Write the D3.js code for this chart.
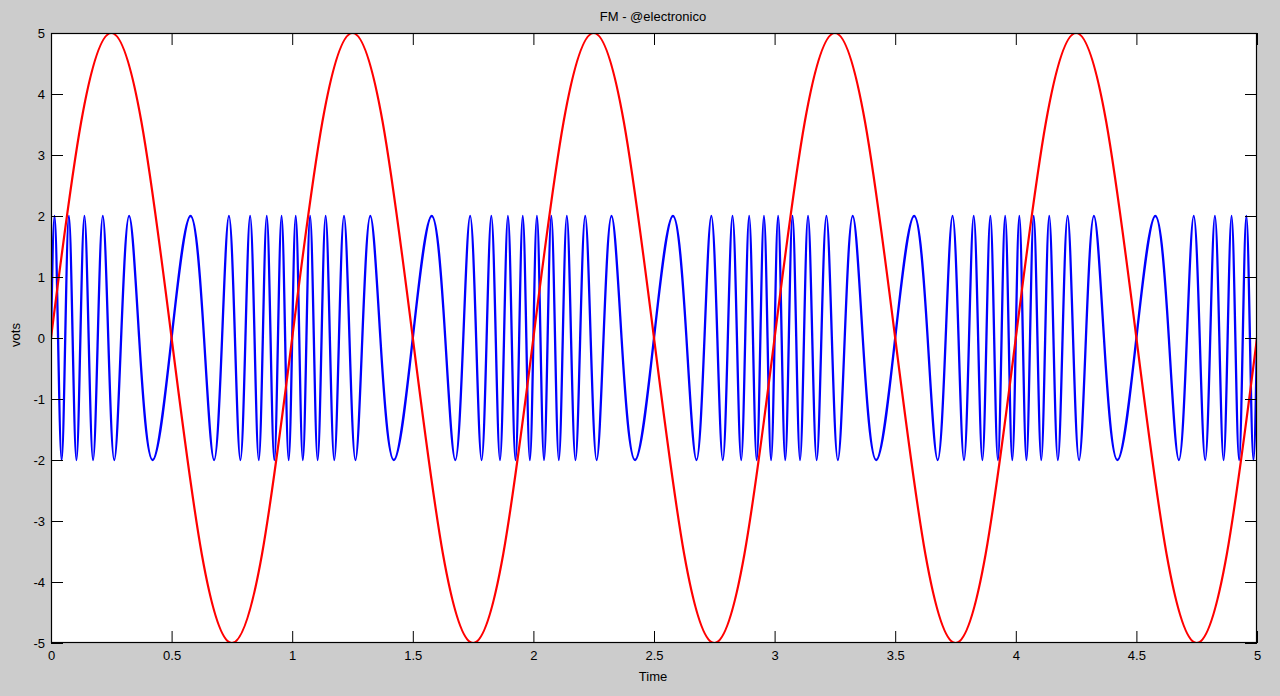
<!DOCTYPE html>
<html>
<head>
<meta charset="utf-8">
<script src="https://cdn.jsdelivr.net/npm/d3@7"></script>
<style>
  html, body { margin: 0; padding: 0; background: #cccccc; }
  svg { display: block; }
  text { font-family: "Liberation Sans", Arial, Helvetica, sans-serif; fill: #000; }
</style>
</head>
<body>
<svg id="chart" width="1280" height="696"></svg>
<script>
// ---------------- data ----------------
const titleText = "FM - @electronico";
const xLabelText = "Time";
const yLabelText = "vots";

const xTicks = [0, 0.5, 1, 1.5, 2, 2.5, 3, 3.5, 4, 4.5, 5];
const yTicks = [-5, -4, -3, -2, -1, 0, 1, 2, 3, 4, 5];

// modulating signal (red), sampled every 1/8 s
const redT = [0,0.125,0.25,0.375,0.5,0.625,0.75,0.875,
  1,1.125,1.25,1.375,1.5,1.625,1.75,1.875,
  2,2.125,2.25,2.375,2.5,2.625,2.75,2.875,
  3,3.125,3.25,3.375,3.5,3.625,3.75,3.875,
  4,4.125,4.25,4.375,4.5,4.625,4.75,4.875,5];
const redV = [0,3.54,5,3.54,0,-3.54,-5,-3.54,
  0,3.54,5,3.54,0,-3.54,-5,-3.54,
  0,3.54,5,3.54,0,-3.54,-5,-3.54,
  0,3.54,5,3.54,0,-3.54,-5,-3.54,
  0,3.54,5,3.54,0,-3.54,-5,-3.54,0];

// FM signal (blue): times of its crests (+2), troughs (-2) and zero crossings
const bluePeakT = [
  0.0146,0.0742,0.1386,0.2148,0.3239,0.5785,0.7377,0.8255,0.8945,0.9559,
  1.0146,1.0742,1.1386,1.2148,1.3239,1.5785,1.7377,1.8255,1.8945,1.9559,
  2.0146,2.0742,2.1386,2.2148,2.3239,2.5785,2.7377,2.8255,2.8945,2.9559,
  3.0146,3.0742,3.1386,3.2148,3.3239,3.5785,3.7377,3.8255,3.8945,3.9559,
  4.0146,4.0742,4.1386,4.2148,4.3239,4.5785,4.7377,4.8255,4.8945,4.9559];
const blueTroughT = [
  0.0441,0.1055,0.1745,0.2623,0.4215,0.6761,0.7852,0.8614,0.9258,0.9854,
  1.0441,1.1055,1.1745,1.2623,1.4215,1.6761,1.7852,1.8614,1.9258,1.9854,
  2.0441,2.1055,2.1745,2.2623,2.4215,2.6761,2.7852,2.8614,2.9258,2.9854,
  3.0441,3.1055,3.1745,3.2623,3.4215,3.6761,3.7852,3.8614,3.9258,3.9854,
  4.0441,4.1055,4.1745,4.2623,4.4215,4.6761,4.7852,4.8614,4.9258,4.9854];
const blueZeroT = [
  0,0.0293,0.0590,0.0897,0.1218,0.1561,0.1939,0.2374,0.2907,0.3655,
  0.5,0.6345,0.7093,0.7626,0.8061,0.8439,0.8782,0.9103,0.9410,0.9707,
  1,1.0293,1.0590,1.0897,1.1218,1.1561,1.1939,1.2374,1.2907,1.3655,
  1.5,1.6345,1.7093,1.7626,1.8061,1.8439,1.8782,1.9103,1.9410,1.9707,
  2,2.0293,2.0590,2.0897,2.1218,2.1561,2.1939,2.2374,2.2907,2.3655,
  2.5,2.6345,2.7093,2.7626,2.8061,2.8439,2.8782,2.9103,2.9410,2.9707,
  3,3.0293,3.0590,3.0897,3.1218,3.1561,3.1939,3.2374,3.2907,3.3655,
  3.5,3.6345,3.7093,3.7626,3.8061,3.8439,3.8782,3.9103,3.9410,3.9707,
  4,4.0293,4.0590,4.0897,4.1218,4.1561,4.1939,4.2374,4.2907,4.3655,
  4.5,4.6345,4.7093,4.7626,4.8061,4.8439,4.8782,4.9103,4.9410,4.9707,5];
const blueAmp = 2;

// ---------------- layout ----------------
const W = 1280, H = 696;
const plot = { left: 51, right: 1257, top: 33, bottom: 643 };

const svg = d3.select("#chart");

const x = d3.scaleLinear().domain([0, 5]).range([plot.left, plot.right]);
const y = d3.scaleLinear().domain([-5, 5]).range([plot.bottom, plot.top]);

// background
svg.append("rect").attr("width", W).attr("height", H).attr("fill", "#cccccc");
svg.append("rect")
  .attr("x", plot.left).attr("y", plot.top)
  .attr("width", plot.right - plot.left).attr("height", plot.bottom - plot.top)
  .attr("fill", "#ffffff");

svg.append("defs").append("clipPath").attr("id", "clip")
  .append("rect")
  .attr("x", plot.left).attr("y", plot.top)
  .attr("width", plot.right - plot.left).attr("height", plot.bottom - plot.top);

// build tables
const redData = redT.map((t, i) => ({ t, v: redV[i] }));
const blueData = []
  .concat(bluePeakT.map(t => ({ t, v: blueAmp })))
  .concat(blueTroughT.map(t => ({ t, v: -blueAmp })))
  .concat(blueZeroT.map(t => ({ t, v: 0 })))
  .sort((a, b) => a.t - b.t);

const line = d3.line().x(d => x(d.t)).y(d => y(d.v)).curve(d3.curveNatural);

const g = svg.append("g").attr("clip-path", "url(#clip)");
g.append("path").datum(blueData)
  .attr("d", line).attr("fill", "none")
  .attr("stroke", "#0000ff").attr("stroke-width", 2.3).attr("stroke-linejoin", "round");
g.append("path").datum(redData)
  .attr("d", line).attr("fill", "none")
  .attr("stroke", "#ff0000").attr("stroke-width", 2.2).attr("stroke-linejoin", "round");

// axes
const fmtX = d => String(d);
const tickLen = 12;
const axB = svg.append("g").attr("transform", `translate(0,${plot.bottom})`)
  .call(d3.axisBottom(x).tickValues(xTicks).tickFormat(fmtX).tickSizeInner(-tickLen).tickSizeOuter(0).tickPadding(8));
const axT = svg.append("g").attr("transform", `translate(0,${plot.top})`)
  .call(d3.axisTop(x).tickValues(xTicks).tickFormat("").tickSizeInner(-tickLen).tickSizeOuter(0));
const axL = svg.append("g").attr("transform", `translate(${plot.left},0)`)
  .call(d3.axisLeft(y).tickValues(yTicks).tickFormat(d => String(d)).tickSizeInner(-tickLen).tickSizeOuter(0).tickPadding(6));
const axR = svg.append("g").attr("transform", `translate(${plot.right},0)`)
  .call(d3.axisRight(y).tickValues(yTicks).tickFormat("").tickSizeInner(-tickLen).tickSizeOuter(0));

[axB, axT, axL, axR].forEach(a => {
  a.select(".domain").remove();
  a.selectAll(".tick line").attr("stroke", "#000").attr("stroke-width", 1);
  a.selectAll(".tick text").attr("font-size", 13).attr("font-family", "'Liberation Sans', Arial, sans-serif").attr("fill", "#000");
});

// box
svg.append("rect")
  .attr("x", plot.left + 0.5).attr("y", plot.top + 0.5)
  .attr("width", plot.right - plot.left - 1).attr("height", plot.bottom - plot.top - 1)
  .attr("fill", "none").attr("stroke", "#000").attr("stroke-width", 1.2);

// texts
svg.append("text").attr("x", 653).attr("y", 21)
  .attr("text-anchor", "middle").attr("font-size", 13).text(titleText);
svg.append("text").attr("x", 653).attr("y", 681)
  .attr("text-anchor", "middle").attr("font-size", 13).text(xLabelText);
svg.append("text").attr("transform", "translate(20,335) rotate(-90)")
  .attr("text-anchor", "middle").attr("font-size", 13).text(yLabelText);
</script>
</body>
</html>
